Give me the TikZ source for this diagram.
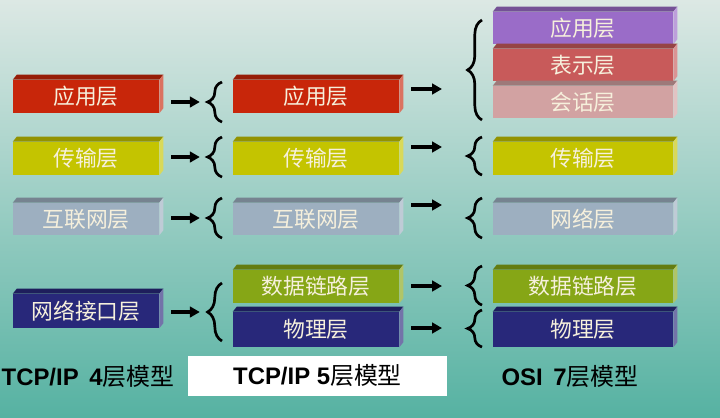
\documentclass[tikz,border=0pt]{standalone}
\usepackage{fontspec}
\setmainfont{Liberation Sans}
\newfontfamily\cjk{Noto Sans CJK SC}
\usetikzlibrary{arrows.meta,decorations.pathreplacing}

\definecolor{bgtop}{HTML}{DCE8E4}
\definecolor{bgbot}{HTML}{56B2A2}
\definecolor{txt}{HTML}{F6F0DC}
\definecolor{red}{HTML}{C8260A}
\definecolor{yel}{HTML}{C4C400}
\definecolor{gry}{HTML}{9DAFC0}
\definecolor{navy}{HTML}{28287A}
\definecolor{olive}{HTML}{86A616}
\definecolor{purp}{HTML}{9A6CC8}
\definecolor{pres}{HTML}{C85A5A}
\definecolor{sess}{HTML}{D2A2A2}

\tikzset{
  layerbox/.style={inner sep=0pt, text=txt, font=\cjk\fontsize{15.5}{18}\selectfont},
  arr/.style={-{Triangle[length=7pt,width=7.5pt]}, line width=2.4pt},
  brc/.style={decorate, decoration={brace, amplitude=0.36cm}, line width=1.9pt},
  model/.style={font=\fontsize{17}{20}\selectfont\bfseries}
}

% name, x, y (centre), width, height, colour, text
\newcommand\layer[7]{%
  \node[layerbox, fill=#6, minimum width=#4*0.025cm, minimum height=#5*0.025cm] (#1) at (#2,#3) {#7};
  \fill[#6!75!black] (#1.north west) -- ++(4,-5) -- ([shift={(4,-5)}]#1.north east) -- (#1.north east) -- cycle;
  \fill[#6!65!white] (#1.north east) -- ++(4,-5) -- ([shift={(4,-5)}]#1.south east) -- (#1.south east) -- cycle;
}

\begin{document}
\begin{tikzpicture}[x=0.025cm, y=-0.025cm]
\useasboundingbox (0,0) rectangle (720,417);
\shade[top color=bgtop, bottom color=bgbot] (0,0) rectangle (720,417);

% TCP/IP 4 layers
\layer{fapp}{86}{96.5}{146}{33}{red}{应用层}
\layer{ftra}{86}{158.5}{146}{33}{yel}{传输层}
\layer{fnet}{86}{219}{146}{32}{gry}{互联网层}
\layer{flink}{86}{311}{146}{34}{navy}{网络接口层}

% TCP/IP 5 layers
\layer{vapp}{316}{96.5}{166}{33}{red}{应用层}
\layer{vtra}{316}{158.5}{166}{33}{yel}{传输层}
\layer{vnet}{316}{219}{166}{32}{gry}{互联网层}
\layer{vdata}{316}{286.5}{166}{33}{olive}{数据链路层}
\layer{vphy}{316}{329.5}{166}{35}{navy}{物理层}

% OSI 7 layers
\layer{oapp}{583}{28}{180}{32}{purp}{应用层}
\layer{opres}{583}{65}{180}{32}{pres}{表示层}
\layer{osess}{583}{102}{180}{32}{sess}{会话层}
\layer{otra}{583}{158.5}{180}{33}{yel}{传输层}
\layer{onet}{583}{219}{180}{32}{gry}{网络层}
\layer{odata}{583}{286.5}{180}{33}{olive}{数据链路层}
\layer{ophy}{583}{329.5}{180}{35}{navy}{物理层}

% Brace tips
\coordinate (k1) at (207,102);
\coordinate (k2) at (207,157);
\coordinate (k3) at (207,218);
\coordinate (k4) at (207,312);
\coordinate (m1) at (466,89);
\coordinate (m2) at (466,147);
\coordinate (m3) at (466,205);
\coordinate (m4) at (466,286);
\coordinate (m5) at (466,328);

% Braces
\draw[brc] (222,122) -- (222,82);
\draw[brc] (222,177) -- (222,137);
\draw[brc] (222,238) -- (222,198);
\draw[brc] (222,341) -- (222,283);
\draw[brc] (482,120) -- (482,20);
\draw[brc] (482,175) -- (482,137);
\draw[brc] (482,238) -- (482,198);
\draw[brc] (482,305) -- (482,266);
\draw[brc] (482,347) -- (482,310);

% Arrows
\foreach \a/\b in {fapp/k1, ftra/k2, fnet/k3, flink/k4}
  \draw[arr, shorten <=0.3cm, shorten >=0.18cm] (\a.east |- \b) -- (\b);
\foreach \a/\b in {vapp/m1, vtra/m2, vnet/m3, vdata/m4, vphy/m5}
  \draw[arr, shorten <=0.3cm, shorten >=0.6cm] (\a.east |- \b) -- (\b);

% Labels
\node[model] (l4) at (88,377) {TCP/IP\, 4\mdseries\cjk 层模型};
\node[fill=white, minimum width=259*0.025cm, minimum height=40*0.025cm] (box5) at (317.5,376) {};
\node[model] (l5) at (box5) {TCP/IP 5\mdseries\cjk 层模型};
\node[model] (l7) at (570,377) {OSI\, 7\mdseries\cjk 层模型};
\end{tikzpicture}
\end{document}
